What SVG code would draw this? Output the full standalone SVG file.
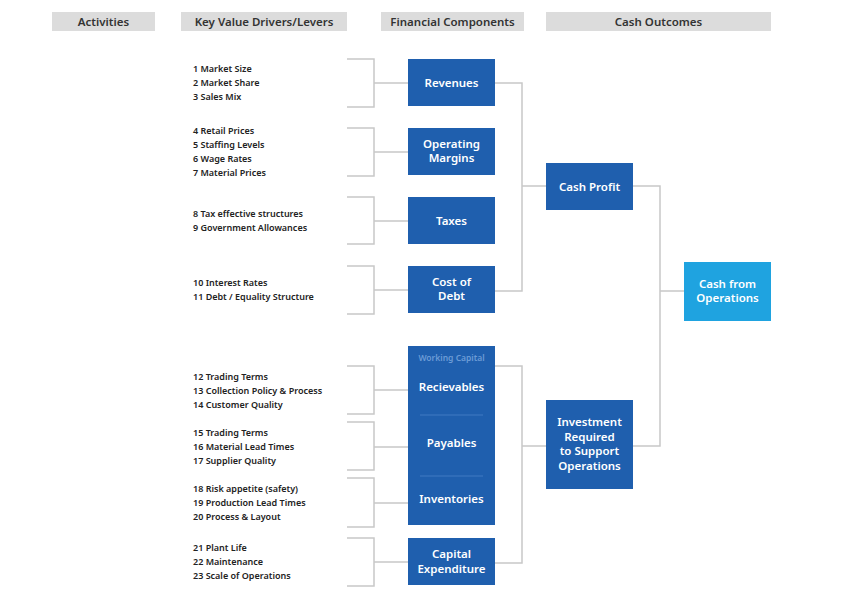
<svg xmlns="http://www.w3.org/2000/svg" width="843" height="600" viewBox="0 0 843 600">
<style>
.hd{fill:#dcdcdc}
.ht{font-family:"Noto Sans",sans-serif;font-size:11.5px;font-weight:600;fill:#333;text-anchor:middle}
.it{font-family:"Noto Sans",sans-serif;font-size:9px;font-weight:600;fill:#222}
.b{fill:#1f5fae}
.bt{font-family:"Noto Sans",sans-serif;font-size:11.5px;font-weight:600;fill:#fff;text-anchor:middle}
.c{fill:none;stroke:#c8c8c8;stroke-width:1.5}
</style>
<rect width="843" height="600" fill="#fff"/>
<g id="headers">
<rect class="hd" x="52" y="12" width="103" height="19"/><text class="ht" x="103.5" y="25.5">Activities</text>
<rect class="hd" x="181" y="12" width="166" height="19"/><text class="ht" x="264" y="25.5">Key Value Drivers/Levers</text>
<rect class="hd" x="381" y="12" width="143" height="19"/><text class="ht" x="452.5" y="25.5">Financial Components</text>
<rect class="hd" x="546" y="12" width="225" height="19"/><text class="ht" x="658.5" y="25.5">Cash Outcomes</text>
</g>
<g id="connectors">
<path class="c" d="M347 59H374V107H347M374 83H408"/>
<path class="c" d="M347 128H374V176H347M374 152H408"/>
<path class="c" d="M347 197H374V244H347M374 221H408"/>
<path class="c" d="M347 266H374V314H347M374 290H408"/>
<path class="c" d="M347 366H374V414H347M374 390H408"/>
<path class="c" d="M347 422H374V470H347M374 447H408"/>
<path class="c" d="M347 478H374V527H347M374 503H408"/>
<path class="c" d="M347 538H374V586H347M374 562H408"/>
<path class="c" d="M495 83H522V291H495M522 186H546"/>
<path class="c" d="M495 366H522V563H495M522 446H546"/>
<path class="c" d="M633 186H660V446H633M660 291H684"/>
</g>
<g id="drivers">
<text class="it" x="193" y="72">1  Market Size</text>
<text class="it" x="193" y="86">2  Market Share</text>
<text class="it" x="193" y="100">3  Sales Mix</text>
<text class="it" x="193" y="134">4  Retail Prices</text>
<text class="it" x="193" y="148">5  Staffing Levels</text>
<text class="it" x="193" y="162">6  Wage Rates</text>
<text class="it" x="193" y="176">7  Material Prices</text>
<text class="it" x="193" y="217">8  Tax effective structures</text>
<text class="it" x="193" y="231">9  Government Allowances</text>
<text class="it" x="193" y="286">10  Interest Rates</text>
<text class="it" x="193" y="300">11  Debt / Equality Structure</text>
<text class="it" x="193" y="380">12  Trading Terms</text>
<text class="it" x="193" y="394">13  Collection Policy &amp; Process</text>
<text class="it" x="193" y="408">14  Customer Quality</text>
<text class="it" x="193" y="436">15  Trading Terms</text>
<text class="it" x="193" y="450">16  Material Lead Times</text>
<text class="it" x="193" y="464">17  Supplier Quality</text>
<text class="it" x="193" y="492">18  Risk appetite (safety)</text>
<text class="it" x="193" y="506">19  Production Lead Times</text>
<text class="it" x="193" y="520">20  Process &amp; Layout</text>
<text class="it" x="193" y="551">21  Plant Life</text>
<text class="it" x="193" y="565">22  Maintenance</text>
<text class="it" x="193" y="579">23  Scale of Operations</text>
</g>
<g id="revenues"><rect class="b" x="408" y="59" width="87" height="47"/><text class="bt" x="451.5" y="87">Revenues</text></g>
<g id="operating-margins"><rect class="b" x="408" y="128" width="87" height="47"/><text class="bt" x="451.5" y="148">Operating</text><text class="bt" x="451.5" y="162">Margins</text></g>
<g id="taxes"><rect class="b" x="408" y="197" width="87" height="47"/><text class="bt" x="451.5" y="225">Taxes</text></g>
<g id="cost-of-debt"><rect class="b" x="408" y="266" width="87" height="47"/><text class="bt" x="451.5" y="286">Cost of</text><text class="bt" x="451.5" y="300">Debt</text></g>
<g id="working-capital"><rect class="b" x="408" y="346" width="87" height="179"/>
<text x="451.5" y="361" text-anchor="middle" font-family="Noto Sans,sans-serif" font-size="8.5" font-weight="600" fill="#6b9bd6">Working Capital</text>
<text class="bt" x="451.5" y="391">Recievables</text>
<line x1="420" y1="415" x2="483" y2="415" stroke="#4a80c8" stroke-width="0.8"/>
<text class="bt" x="451.5" y="447">Payables</text>
<line x1="420" y1="476" x2="483" y2="476" stroke="#4a80c8" stroke-width="0.8"/>
<text class="bt" x="451.5" y="503">Inventories</text></g>
<g id="capex"><rect class="b" x="408" y="538" width="87" height="47"/><text class="bt" x="451.5" y="558">Capital</text><text class="bt" x="451.5" y="573">Expenditure</text></g>
<g id="cash-profit"><rect class="b" x="546" y="163" width="87" height="47"/><text class="bt" x="589.5" y="191">Cash Profit</text></g>
<g id="investment"><rect class="b" x="546" y="400" width="87" height="89"/>
<text class="bt" x="589.5" y="426">Investment</text><text class="bt" x="589.5" y="441">Required</text><text class="bt" x="589.5" y="455">to Support</text><text class="bt" x="589.5" y="470">Operations</text></g>
<g id="cash-from-operations"><rect x="684" y="262" width="87" height="59" fill="#1fa3e0"/><text class="bt" x="727.5" y="288">Cash from</text><text class="bt" x="727.5" y="302">Operations</text></g>
</svg>
